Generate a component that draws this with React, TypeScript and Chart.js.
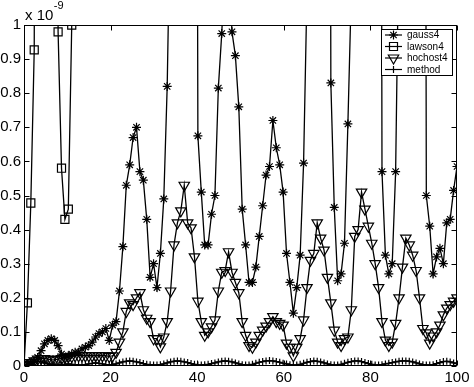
import React, { useEffect, useRef } from 'react';
import { Chart, registerables } from 'chart.js';

Chart.register(...registerables);

const FONT = '"Liberation Sans", Arial, Helvetica, sans-serif';

const xTickValues = [0, 20, 40, 60, 80, 100];
const yTickValues = [0, 0.1, 0.2, 0.3, 0.4, 0.5, 0.6, 0.7, 0.8, 0.9, 1];
const scaleBase = 'x 10';
const scaleExponent = '-9';
const seriesLabels = ['gauss4', 'lawson4', 'hochost4', 'method'];
const timeEnd = 100;
const lastSample = 127;

// values in units of 1e-9
const gauss4 = [
  0.0, 0.005, 0.01, 0.015, 0.025, 0.045, 0.065, 0.075, 0.08, 0.075,
  0.06, 0.035, 0.025, 0.03, 0.035, 0.04, 0.04, 0.05, 0.055, 0.06,
  0.07, 0.085, 0.095, 0.1, 0.11, 0.075, 0.12, 0.13, 0.22, 0.35,
  0.53, 0.59, 0.67, 0.7, 0.57, 0.545, 0.43, 0.26, 0.3, 0.23,
  0.33, 0.49, 0.82, 1.4, 2.0, 2.6, 3.2, 3.8, 4.4, 5.0,
  5.0, 0.675, 0.51, 0.355, 0.355, 0.445, 0.5, 0.815, 0.975, 1.2,
  1.2, 0.98, 0.91, 0.76, 0.46, 0.355, 0.245, 0.245, 0.29, 0.38,
  0.47, 0.56, 0.585, 0.72, 0.64, 0.59, 0.51, 0.33, 0.245, 0.155,
  0.23, 0.325, 0.595, 1.1, 2.0, 3.0, 4.0, 5.0, 6.0, 6.0,
  0.83, 0.465, 0.25, 0.27, 0.36, 0.71, 1.1, 2.0, 3.0, 4.0,
  5.0, 5.5, 6.0, 6.0, 6.0, 0.57, 0.325, 0.27, 0.3, 0.57,
  1.3, 2.0, 3.0, 4.0, 5.0, 6.0, 6.0, 6.0, 0.5, 0.41,
  0.27, 0.32, 0.345, 0.3, 0.42, 0.43, 0.515, 0.585,
];

const lawson4 = [
  0.0, 0.185, 0.478, 0.927, 5.2, 9.5, 12.8, 13.5, 11.0, 6.5,
  0.98, 0.58, 0.43, 0.46, 1.0, 4.8, 9.0, 14.0,
];

const hochost4 = [
  0.0, 0.005, 0.01, 0.015, 0.02, 0.022, 0.022, 0.02, 0.018, 0.018,
  0.02, 0.022, 0.025, 0.027, 0.028, 0.03, 0.03, 0.03, 0.03, 0.03,
  0.03, 0.03, 0.03, 0.03, 0.03, 0.028, 0.03, 0.04, 0.07, 0.1,
  0.16, 0.185, 0.18, 0.2, 0.215, 0.165, 0.14, 0.13, 0.08, 0.08,
  0.056, 0.085, 0.13, 0.22, 0.355, 0.42, 0.455, 0.53, 0.42, 0.405,
  0.32, 0.19, 0.13, 0.09, 0.1, 0.115, 0.135, 0.22, 0.275, 0.28,
  0.335, 0.275, 0.245, 0.215, 0.13, 0.09, 0.06, 0.055, 0.07, 0.09,
  0.105, 0.117, 0.13, 0.145, 0.13, 0.125, 0.12, 0.067, 0.055, 0.03,
  0.055, 0.08, 0.135, 0.23, 0.31, 0.33, 0.42, 0.375, 0.34, 0.26,
  0.185, 0.105, 0.07, 0.06, 0.08, 0.085, 0.165, 0.38, 0.4, 0.51,
  0.46, 0.41, 0.36, 0.3, 0.23, 0.13, 0.076, 0.06, 0.07, 0.125,
  0.2, 0.29, 0.375, 0.355, 0.325, 0.28, 0.2, 0.11, 0.097, 0.067,
  0.088, 0.1, 0.12, 0.15, 0.17, 0.18, 0.19, 0.2,
];

const method = [
  0, 0.004, 0.008, 0.012, 0.014, 0.012, 0.009, 0.006, 0.004, 0.003, 0.003, 0.004, 0.005,
  0.006, 0.005, 0.004, 0.003, 0.003, 0.004, 0.006, 0.008, 0.009, 0.008, 0.006, 0.004, 0.003, 0.004, 0.006,
  0.009, 0.012, 0.014, 0.015, 0.014, 0.012, 0.01, 0.007, 0.005, 0.004,
  0.003, 0.003, 0.004, 0.006, 0.009,
  0.012, 0.014, 0.015, 0.014, 0.012, 0.01, 0.007, 0.005,
  0.003, 0.003, 0.004, 0.005, 0.007, 0.009,
  0.012, 0.014, 0.015, 0.014, 0.012, 0.009, 0.006,
  0.004, 0.003, 0.003, 0.005, 0.008,
  0.011, 0.013, 0.015, 0.016, 0.015, 0.013, 0.011, 0.008, 0.006,
  0.004, 0.003, 0.003, 0.005, 0.008, 0.011,
  0.013, 0.015, 0.014, 0.012, 0.009,
  0.006, 0.004, 0.003, 0.003, 0.005, 0.008, 0.011,
  0.013, 0.015, 0.015, 0.013, 0.01, 0.007,
  0.005, 0.003, 0.003, 0.004, 0.006, 0.008, 0.01, 0.012,
  0.014, 0.015, 0.015, 0.014, 0.012, 0.009, 0.006,
  0.004, 0.003, 0.003, 0.004, 0.007, 0.01,
  0.013, 0.014, 0.012, 0.009, 0.007,
];

function toPoints(values: number[]) {
  return values.map((y, i) => ({ x: (i * timeEnd) / lastSample, y }));
}

type MarkerKind = 'star' | 'rect' | 'triangle' | 'cross';

function drawMarker(ctx: CanvasRenderingContext2D, kind: MarkerKind, x: number, y: number) {
  ctx.beginPath();
  if (kind === 'star') {
    const r = 4.5;
    for (let k = 0; k < 4; k++) {
      const a = (k * Math.PI) / 4;
      ctx.moveTo(x - Math.cos(a) * r, y - Math.sin(a) * r);
      ctx.lineTo(x + Math.cos(a) * r, y + Math.sin(a) * r);
    }
  } else if (kind === 'rect') {
    ctx.rect(x - 4, y - 4, 8, 8);
  } else if (kind === 'triangle') {
    const r = 6;
    ctx.moveTo(x, y + r);
    ctx.lineTo(x - r * Math.sin(Math.PI / 3), y - r / 2);
    ctx.lineTo(x + r * Math.sin(Math.PI / 3), y - r / 2);
    ctx.closePath();
  } else {
    const r = 3.5;
    ctx.moveTo(x - r, y);
    ctx.lineTo(x + r, y);
    ctx.moveTo(x, y - r);
    ctx.lineTo(x, y + r);
  }
  ctx.stroke();
}

const framePlugin = {
  id: 'matlabFrame',
  afterDatasetsDraw(chart: any) {
    const { ctx, chartArea } = chart;
    const xs = chart.scales.x;
    const ys = chart.scales.y;
    const L = Math.round(chartArea.left) + 0.5;
    const R = Math.round(chartArea.right) - 0.5;
    const T = Math.round(chartArea.top) + 0.5;
    const B = Math.round(chartArea.bottom) - 0.5;
    ctx.save();
    ctx.strokeStyle = '#000';
    ctx.lineWidth = 1;
    ctx.strokeRect(L, T, R - L, B - T);
    const tl = 5;
    ctx.beginPath();
    xTickValues.forEach((v) => {
      const px = Math.round(xs.getPixelForValue(v)) + 0.5;
      ctx.moveTo(px, B);
      ctx.lineTo(px, B - tl);
      ctx.moveTo(px, T);
      ctx.lineTo(px, T + tl);
    });
    yTickValues.forEach((v) => {
      const py = Math.round(ys.getPixelForValue(v)) + 0.5;
      ctx.moveTo(L, py);
      ctx.lineTo(L + tl, py);
      ctx.moveTo(R, py);
      ctx.lineTo(R - tl, py);
    });
    ctx.stroke();

    // exponent label
    ctx.fillStyle = '#000';
    ctx.textAlign = 'left';
    ctx.textBaseline = 'alphabetic';
    ctx.font = `15px ${FONT}`;
    ctx.fillText(scaleBase, 25, 20);
    const w = ctx.measureText(scaleBase).width;
    ctx.font = `11px ${FONT}`;
    ctx.fillText(scaleExponent, 25 + w + 0.5, 9);

    // legend
    const bx = 381.5, by = 29.5, bw = 71, bh = 46;
    ctx.fillStyle = '#fff';
    ctx.fillRect(bx, by, bw, bh);
    ctx.strokeRect(bx, by, bw, bh);
    const kinds: MarkerKind[] = ['star', 'rect', 'triangle', 'cross'];
    const rows = [35, 46.5, 58, 69.5];
    ctx.font = `10px ${FONT}`;
    ctx.textBaseline = 'middle';
    seriesLabels.forEach((label, k) => {
      const ry = rows[k];
      ctx.lineWidth = 1.2;
      ctx.beginPath();
      ctx.moveTo(385, ry);
      ctx.lineTo(402, ry);
      ctx.stroke();
      drawMarker(ctx, kinds[k], 393.5, ry);
      ctx.fillStyle = '#000';
      ctx.fillText(label, 407, ry + 0.5);
    });
    ctx.restore();
  },
};

export default function App() {
  const ref = useRef<HTMLCanvasElement>(null);
  useEffect(() => {
    document.body.style.margin = '0';
    const common = {
      borderColor: '#000',
      borderWidth: 1.3,
      pointBorderColor: '#000',
      pointBackgroundColor: 'rgba(0,0,0,0)',
      pointBorderWidth: 1.2,
      pointHoverRadius: 0,
      tension: 0,
      fill: false,
    };
    const chart = new Chart(ref.current as HTMLCanvasElement, {
      type: 'line',
      data: {
        datasets: [
          { ...common, label: seriesLabels[0], data: toPoints(gauss4), pointStyle: 'star', pointRadius: 4.5, order: 3 },
          { ...common, label: seriesLabels[1], data: toPoints(lawson4), pointStyle: 'rect', pointRadius: 5.7, order: 2 },
          { ...common, label: seriesLabels[2], data: toPoints(hochost4), pointStyle: 'triangle', pointRotation: 180, pointRadius: 6, order: 1 },
          { ...common, label: seriesLabels[3], data: toPoints(method), pointStyle: 'cross', pointRadius: 3.5, order: 0 },
        ] as any,
      },
      options: {
        responsive: false,
        animation: false,
        events: [],
        layout: { padding: { top: 25, right: 17, left: 0, bottom: 0 } },
        plugins: { legend: { display: false }, tooltip: { enabled: false } },
        scales: {
          x: {
            type: 'linear',
            min: 0,
            max: 100,
            grid: { display: false, drawTicks: false },
            border: { display: false },
            ticks: {
              color: '#000',
              font: { family: FONT, size: 15 },
              padding: 3,
              maxRotation: 0,
              callback: (v: any) => String(v),
            },
            afterBuildTicks: (s: any) => {
              s.ticks = xTickValues.map((v) => ({ value: v }));
            },
            afterFit: (s: any) => {
              s.height = 21;
            },
          },
          y: {
            type: 'linear',
            min: 0,
            max: 1,
            grid: { display: false, drawTicks: false },
            border: { display: false },
            ticks: {
              color: '#000',
              font: { family: FONT, size: 15 },
              padding: 3,
              callback: (v: any) => {
                const n = Number(v);
                if (n === 0) return '0';
                if (n === 1) return '1';
                return n.toFixed(1);
              },
            },
            afterBuildTicks: (s: any) => {
              s.ticks = yTickValues.map((v) => ({ value: v }));
            },
            afterFit: (s: any) => {
              s.width = 24;
            },
          },
        },
      } as any,
      plugins: [framePlugin],
    });
    return () => chart.destroy();
  }, []);
  return (
    <div style={{ width: 474, height: 387, background: '#fff' }}>
      <canvas ref={ref} width={474} height={387} style={{ display: 'block' }} />
    </div>
  );
}
